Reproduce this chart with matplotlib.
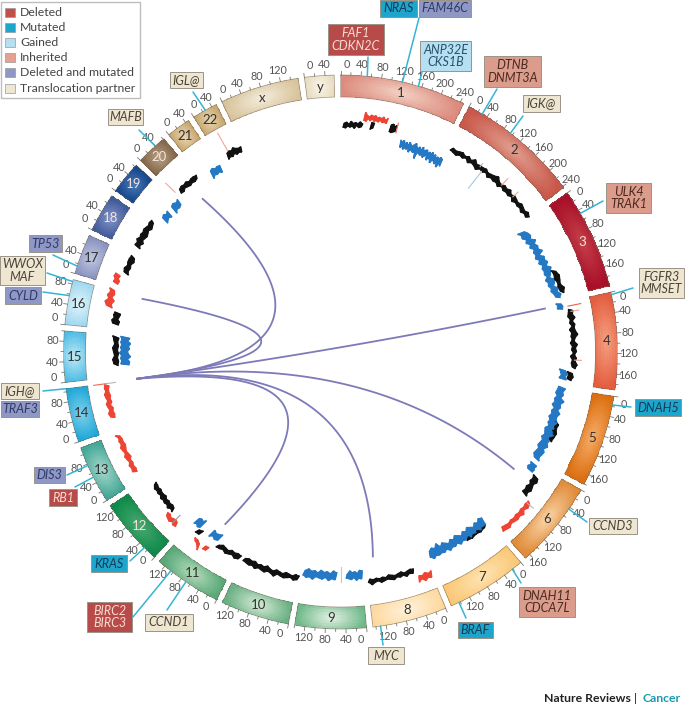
import numpy as np
import matplotlib
matplotlib.use("Agg")
import matplotlib.pyplot as plt
from matplotlib.colors import LinearSegmentedColormap
from matplotlib.patches import Rectangle

plt.rcParams["font.family"] = ["Lato", "DejaVu Sans"]

# chromosomes, clockwise from the top
chrom_names = ["1", "2", "3", "4", "5", "6", "7", "8", "9", "10", "11", "12",
               "13", "14", "15", "16", "17", "18", "19", "20", "21", "22", "x", "y"]
chrom_mb = [247, 243, 199, 191, 181, 171, 159, 146, 140, 135, 134, 132,
            114, 106, 100, 89, 79, 76, 64, 62, 47, 50, 155, 58]
edge_cols = ["#dc8b7e", "#c9584a", "#a80f28", "#e35d3f", "#dc6f10", "#e08c3a", "#fbc878", "#fdd9a0",
             "#6fb88a", "#6ab084", "#58a878", "#0d8a4a", "#44a898", "#20a8d8", "#50bde6", "#a0d8f0",
             "#8a94c0", "#3f5a9c", "#16468c", "#84684c", "#c8a870", "#c8a870", "#d8c49c", "#e8dcc0"]
mid_cols = ["#f2d2c4", "#e0a090", "#c4404a", "#f4a080", "#f5ad6a", "#fad6aa", "#fde4b4", "#fff2dc",
            "#e4f2e4", "#d8ecd8", "#b6dcbc", "#4caa70", "#a8d8cc", "#80d0ec", "#c0e8f4", "#e2f4fa",
            "#c0c8e0", "#8494c4", "#4878b4", "#b8a080", "#e8d4b0", "#e8d4b0", "#f4ecdc", "#f8f4e8"]
light_num = ["3", "12", "18", "19", "20"]

# legend
legend_names = ["Deleted", "Mutated", "Gained", "Inherited", "Deleted and mutated", "Translocation partner"]
legend_cols = ["#c0504a", "#1ea5cc", "#b6e0f2", "#e4a090", "#8f97c4", "#efe6d2"]

# copy number track, read as radius per segment
k_1a = [225, 229, 224, 230, 226, 228, 225, 231, 226, 229, 224, 230, 227, 229, 225, 231, 226, 229]
r_1a = [233, 241, 232, 238, 235, 237, 233, 239, 235, 238, 233, 239, 234, 237, 233, 238, 235, 237, 233, 239, 234, 236, 233, 238]
k_1b = [225, 232, 226, 231]
k_1c = [226, 233, 225, 234, 226, 232, 227, 233]
b_1 = [220, 213, 219, 215, 221, 212, 218, 214, 220, 213, 217, 215, 221, 211, 219, 214, 218, 213, 220, 212,
       222, 214, 219, 207, 218, 214, 220, 213, 217, 212, 221, 214, 218, 211, 219, 213, 220, 215, 217, 210,
       219, 213, 218, 212, 220, 209, 217, 213, 219, 212, 216, 210, 218, 212, 217, 208, 219, 213, 218, 211]
k_2 = [230, 233, 229, 232, 228, 233, 230, 234, 229, 232, 231, 234, 228, 232, 230, 235, 229, 232, 227, 233,
       230, 233, 229, 234, 231, 232, 228, 233, 230, 234, 229, 236, 230, 233, 228, 232, 231, 234, 229, 233,
       230, 235, 229, 232, 231, 234, 228, 233, 230, 232, 229, 234, 230, 233, 228, 232, 230, 234, 229, 232]
b_3 = [213, 220, 215, 222, 214, 223, 217, 221, 215, 225, 218, 222, 216, 224, 219, 223, 217, 226, 218, 221,
       216, 225, 219, 224, 217, 226, 220, 223, 218, 227, 219, 225, 218, 224, 220, 222, 217, 226, 219, 225,
       218, 223, 220, 227, 219, 225, 221, 228, 222, 226]
k_3 = [226, 230, 227, 232, 226, 231, 228, 230, 227, 233, 228, 231]
b_4a = [221, 226, 222, 227, 221, 226]
k_4a = [232, 236, 231, 235, 230, 237, 232, 234, 231, 236, 233, 235, 230, 236, 232, 238, 231, 235,
        232, 234, 230, 237, 232, 235, 231, 236, 233, 234, 230, 236, 232, 235, 231, 237, 232, 235]
b_4b = [220, 226, 221, 228, 222, 226, 220, 227]
k_4b = [228, 233, 229, 234, 228, 232]
b_5 = [221, 228, 220, 226, 219, 227, 221, 225, 219, 229, 220, 226, 218, 227, 221, 225, 219, 228, 220, 226,
       218, 226, 220, 228, 219, 225, 221, 227, 218, 226, 219, 229, 220, 225, 218, 227, 220, 226, 219, 228,
       218, 225, 220, 227, 219, 226, 218, 225, 220, 226]
k_5 = [226, 230, 227, 229, 226, 231, 227, 230, 226, 229]
b_6 = [220, 227, 221, 226, 219, 227, 220, 226]
k_6 = [229, 235, 230, 236, 229, 234, 231, 235, 229, 236, 230, 234, 229, 235]
r_6 = [240, 243, 239, 244, 240, 242, 239, 245, 240, 243, 239, 244, 240, 243, 239, 242, 240, 244, 239, 243, 238, 242]
b_7 = [218, 226, 216, 225, 219, 227, 217, 224, 220, 226, 218, 225, 216, 227, 219, 224, 217, 226, 220, 225,
       218, 227, 216, 224, 219, 226, 217, 225, 220, 227, 218, 224, 216, 226, 219, 225, 214, 226, 218, 225,
       216, 227, 218, 224]
k_7 = [225, 227, 226, 228, 225, 227, 226, 228, 225, 227]
r_8 = [237, 243, 238, 242, 236, 244, 238, 241, 237, 243]
k_8 = [229, 233, 228, 232, 229, 234, 230, 232, 228, 233, 229, 232, 230, 234, 229, 233, 228, 232, 230, 233,
       229, 234, 230, 232, 229, 233, 230, 235, 229, 232]
b_9a = [220, 228, 219, 227, 222, 229, 220, 226, 221, 228, 219, 227, 222, 226]
b_9b = [221, 228, 219, 227, 222, 229, 220, 226, 221, 228, 219, 227, 222, 226, 220, 229, 221, 227, 219, 228, 221, 226]
k_10 = [228, 232, 227, 233, 229, 231, 228, 232, 227, 233, 229, 232, 228, 231, 227, 234, 229, 232,
        228, 231, 226, 233, 228, 232, 227, 231, 228, 233, 226, 231, 227, 232, 226, 231, 227, 230]
k_11 = [227, 231, 226, 232, 227, 230, 226, 231, 228, 232, 227, 230, 226, 231, 228, 231]
b_11 = [218, 225, 219, 226, 220, 224, 218, 226]
r_11a = [236, 240, 236, 240]
r_11b = [244, 238, 240, 236, 238, 236]
k_11b = [226, 231, 227, 231]
b_12 = [216, 225, 218, 226, 217, 224, 218, 225]
r_12 = [240, 236, 241, 235, 239, 236, 241, 237, 240, 235, 239, 236]
k_12 = [232, 228, 231, 227, 233, 228, 231, 227, 232, 228, 231, 226, 232, 227, 230, 227, 231, 226, 230, 227, 231, 226, 229, 226]
r_13 = [236, 240, 235, 239, 236, 240, 235, 238, 236, 239, 234, 240, 235, 238, 236, 239, 235, 240, 234, 238,
        235, 239, 235, 238, 236, 240]
r_14 = [235, 239, 234, 240, 235, 238, 234, 239, 236, 240, 234, 238, 235, 239, 234, 240, 235, 238, 235, 239, 234, 238]
b_15 = [212, 220, 211, 219, 213, 220, 210, 219, 212, 221, 213, 219, 211, 220, 212, 219, 210, 220, 213, 219, 211, 220]
k_15 = [223, 227, 222, 228, 223, 226, 222, 227, 223, 228, 222, 226, 223, 227, 222, 228]
k_16 = [224, 230, 223, 231, 225, 229, 224, 230, 223, 229]
r_16a = [233, 239, 234, 241, 232, 238, 235, 240, 233, 238, 234, 239]
r_16b = [233, 238, 232, 237, 234, 239, 233, 238]
k_17 = [226, 231, 227, 232, 226, 230, 227, 231, 225, 231, 226, 230]
k_18 = [226, 232, 227, 231, 225, 233, 227, 231, 226, 232, 225, 231, 226, 232, 227, 231, 225, 230, 226, 231, 227, 230]
b_19a = [216, 223, 217, 224, 218, 222, 216, 223]
b_19b = [215, 223, 217, 224, 216, 222, 217, 223]
k_20 = [225, 229, 224, 230, 226, 229, 225, 230, 224, 228, 225, 229, 224, 229, 225, 228]
b_21 = [215, 223, 217, 224, 216, 222, 217, 223, 215, 222]
k_22 = [223, 229, 224, 230, 223, 229, 225, 231, 223, 229, 224, 228, 223, 228]

# single outliers sticking out of the track
spike_deg = [330.7, 314.0, 38.0, 44.0, 48.0, 37.0, 78.6, 262.3, 262.3, 14.2, 80.0, 92.0, 129.0, 224.5, 180.0]
spike_lo = [231, 230, 208, 232, 232, 232, 232, 227, 237, 226, 234, 234, 240, 229, 215]
spike_hi = [251, 243, 229, 241, 239, 236, 245, 237, 249, 236, 242, 241, 248, 240, 230]
spike_col = ["#eea79c", "#eea79c", "#a8c8e4", "#eea79c", "#eea79c", "#b8b8b8", "#e8604c", "#b8b8b8",
             "#ee6a58", "#ee6a58", "#eea79c", "#eea79c", "#b8b8b8", "#999999", "#a8d0ec"]

# translocation links, all leaving the IGH region on 14
link_from = 262.5
link_from_r = 205
link_to = [78, 124, 171, 213.8, 285, 318]
link_to_r = [209, 209, 207, 207, 205, 206]
link_bend_x = [5, 25, 30, 45, 42, 35]
link_bend_y = [2, 7, 3, -6, 7, 0]

# gene callouts: label, box kind, chromosome, Mb
gene_labels = ["FAF1\nCDKN2C", "NRAS", "FAM46C", "ANP32E\nCKS1B", "DTNB\nDNMT3A", "IGK@", "ULK4\nTRAK1",
               "FGFR3\nMMSET", "DNAH5", "CCND3", "DNAH11\nCDCA7L", "BRAF", "MYC", "CCND1", "BIRC2\nBIRC3",
               "KRAS", "RB1", "DIS3", "IGH@", "TRAF3", "CYLD", "WWOX\nMAF", "TP53", "MAFB", "IGL@"]
gene_kind = ["del", "mut", "both", "gain", "inh", "trans", "inh", "trans", "mut", "trans", "inh", "mut",
             "trans", "trans", "del", "mut", "del", "both", "trans", "both", "both", "trans", "both", "trans", "trans"]
gene_chrom = ["1", "1", None, "1", "2", "2", "3", "4", "5", "6", "7", "7", "8", "11", "11", "12", "13", "13",
              "14", None, "16", "16", "17", "20", "22"]
gene_mb = [52, 121, None, 153, 29, 95, 47, 5, 17, 44, 21, 143, 131, 69, 105, 27, 52, 77, 106, None, 57, 85, 15, 40, 26]

# layout, pixels of the 685x706 picture
gene_box = [(328, 24, 384, 55), (380, 0, 417, 17), (419, 0, 471, 17), (420, 41, 471, 71), (484, 56, 541, 87),
            (523, 95, 560, 112), (606, 183, 651, 213), (639, 268, 684, 298), (635, 399, 681, 416),
            (589, 518, 637, 534), (519, 587, 575, 617), (458, 622, 493, 638), (368, 647, 404, 664),
            (145, 614, 193, 631), (87, 602, 132, 632), (91, 555, 127, 572), (49, 489, 77, 506), (34, 467, 65, 483),
            (1, 383, 39, 399), (1, 401, 39, 417), (5, 287, 41, 304), (0, 256, 45, 285), (29, 235, 62, 252),
            (108, 109, 143, 125), (170, 72, 203, 88)]
gene_line_start = [(368, 57), (419, 18), None, (422, 72), (497, 89), (523, 116), (603, 201), (633, 288), (631, 407),
                   (587, 522), (521, 583), (466, 618), (383, 645), (167, 610), (133, 617), (130, 561), (75, 487),
                   (67, 475), (43, 391), None, (43, 292), (47, 273), (53, 255), (139, 130), (193, 92)]
box_style = {"del": ("#b94a4a", "#f8dcd0"), "mut": ("#1ea5cc", "#153c58"), "both": ("#8f97c4", "#2f3a68"),
             "gain": ("#b6e0f2", "#27506a"), "inh": ("#dc9c8c", "#4a2a20"), "trans": ("#efe6d2", "#4a4438")}

W, H = 685, 706
CX, CY, RMAX = 340.5, 352, 339
R_IN, R_OUT = 255, 277
GAP = 1.3
DEG_PER_MB = (360 - GAP * len(chrom_mb)) / sum(chrom_mb)

BLACK, BLUE, RED = "#111111", "#2478c4", "#ee4433"

# track table: values, first degree, last degree, colour
segments = [
    (b_1, 16.0, 28.0, BLUE), (k_1a, 0.7, 5.5, BLACK), (r_1a, 5.8, 11.5, RED), (k_1b, 7.6, 8.4, BLACK),
    (k_1c, 12.5, 14.0, BLACK), (k_2, 28.6, 54.3, BLACK), (b_3, 56.5, 76.0, BLUE), (k_3, 69.0, 75.0, BLACK),
    (b_4a, 77.5, 79.0, BLUE), (k_4a, 79.5, 94.0, BLACK), (k_4b, 95.0, 97.0, BLACK), (b_4b, 94.5, 97.0, BLUE),
    (k_5, 108.0, 113.0, BLACK), (b_5, 99.0, 118.7, BLUE), (b_6, 120.0, 122.0, BLUE), (k_6, 122.5, 127.7, BLACK),
    (r_6, 128.5, 137.7, RED), (k_7, 140.0, 146.0, BLACK), (b_7, 139.7, 156.3, BLUE), (r_8, 157.6, 161.0, RED),
    (k_8, 161.5, 173.0, BLACK), (b_9a, 174.4, 178.5, BLUE), (b_9b, 181.0, 189.5, BLUE), (k_10, 190.5, 205.0, BLACK),
    (k_11, 206.0, 212.5, BLACK), (b_11, 212.8, 215.5, BLUE), (r_11a, 214.0, 215.0, RED), (r_11b, 216.0, 218.0, RED),
    (k_11b, 217.5, 218.8, BLACK), (b_12, 218.5, 220.5, BLUE), (r_12, 223.5, 227.0, RED), (k_12, 226.6, 234.7, BLACK),
    (r_13, 239.7, 249.5, RED), (r_14, 253.9, 262.0, RED), (b_15, 266.6, 274.0, BLUE), (k_15, 266.6, 274.0, BLACK),
    (k_16, 277.0, 280.0, BLACK), (r_16a, 281.0, 285.5, RED), (r_16b, 287.0, 289.3, RED), (k_17, 290.0, 294.7, BLACK),
    (k_18, 297.3, 304.8, BLACK), (b_19a, 306.8, 309.0, BLUE), (b_19b, 310.4, 313.0, BLUE), (k_20, 315.0, 320.7, BLACK),
    (b_21, 324.0, 327.0, BLUE), (k_22, 330.0, 334.0, BLACK),
]

fig = plt.figure(figsize=(W / 100, H / 100), dpi=100)
ax = fig.add_axes([(CX - RMAX) / W, (H - CY - RMAX) / H, 2 * RMAX / W, 2 * RMAX / H], projection="polar")
ax.set_theta_zero_location("N")
ax.set_theta_direction(-1)
ax.axis("off")

# overlay in picture pixels, for the legend and the boxes
top = fig.add_axes([0, 0, 1, 1])
top.set_xlim(0, W)
top.set_ylim(H, 0)
top.axis("off")
top.patch.set_alpha(0)

chrom_start = {}
angle = 0.0
for name, mb, c_edge, c_mid in zip(chrom_names, chrom_mb, edge_cols, mid_cols):
    chrom_start[name] = angle
    end = angle + mb * DEG_PER_MB
    th = np.radians(np.linspace(angle, end, 41))
    rr = np.linspace(R_IN, R_OUT, 9)
    tc = 0.5 * (th[:-1] + th[1:])
    rc = 0.5 * (rr[:-1] + rr[1:])
    u = np.abs(2 * (tc - th[0]) / (th[-1] - th[0]) - 1)
    v = np.abs(2 * (rc - R_IN) / (R_OUT - R_IN) - 1)
    shade = 1 - np.sqrt(np.outer(v * 0.6, np.ones_like(u)) ** 2 + np.outer(np.ones_like(v), u) ** 2)
    cmap = LinearSegmentedColormap.from_list("c" + name, [c_edge, c_mid])
    ax.pcolormesh(th, rr, np.clip(shade, 0, 1), cmap=cmap, vmin=0, vmax=1, shading="flat", linewidth=0, rasterized=True)
    outline_t = np.concatenate([th, th[::-1], th[:1]])
    outline_r = np.concatenate([np.full(41, R_OUT), np.full(41, R_IN), [R_OUT]])
    ax.plot(outline_t, outline_r, color="#7a6a5a", lw=0.5, alpha=0.7)

    for tick in range(0, mb + 1, 20):
        t = np.radians(angle + tick * DEG_PER_MB)
        ax.plot([t, t], [R_OUT, R_OUT + (4 if tick % 40 == 0 else 2.5)], color="#777777", lw=0.6)
        if tick % 40 == 0:
            # the 0 is nudged clockwise, clear of the last label of the previous chromosome
            nudge = np.radians(1.3) if tick == 0 else 0
            ax.text(t + nudge, 288, str(tick), ha="center", va="center", fontsize=7.8, color="#555555")
    num_col = "#f4e4dc" if name in light_num else "#333333"
    ax.text(np.radians(0.5 * (angle + end)), 266, name, ha="center", va="center", fontsize=9.5, color=num_col)
    angle = end + GAP

for values, first, last, col in segments:
    th = np.radians(np.linspace(first, last, len(values)))
    # odd and even readings are the two edges of the noisy band
    ax.fill(np.concatenate([th[::2], th[1::2][::-1]]), np.concatenate([values[::2], values[1::2][::-1]]),
            color=col, lw=0.8)
    ax.plot(th, values, color=col, lw=1.2, solid_joinstyle="miter")

for deg, lo, hi, col in zip(spike_deg, spike_lo, spike_hi, spike_col):
    ax.plot(np.radians([deg, deg]), [lo, hi], color=col, lw=0.8)

# quadratic curves through a point near the centre
t0 = np.radians(link_from)
p0 = np.array([link_from_r * np.sin(t0), link_from_r * np.cos(t0)])
s = np.linspace(0, 1, 120)[:, None]
for deg, r_end, bx, by in zip(link_to, link_to_r, link_bend_x, link_bend_y):
    t1 = np.radians(deg)
    p2 = np.array([r_end * np.sin(t1), r_end * np.cos(t1)])
    ctl = np.array([bx, by])
    pts = (1 - s) ** 2 * p0 + 2 * s * (1 - s) * ctl + s ** 2 * p2
    ax.plot(np.arctan2(pts[:, 0], pts[:, 1]), np.hypot(pts[:, 0], pts[:, 1]), color="#7d7ab8", lw=1.3)

ax.set_rlim(0, RMAX)
ax.grid(False)

for i in range(len(gene_labels)):
    x0, y0, x1, y1 = gene_box[i]
    bg, fg = box_style[gene_kind[i]]
    if gene_line_start[i] is not None:
        t = np.radians(chrom_start[gene_chrom[i]] + gene_mb[i] * DEG_PER_MB)
        top.annotate("", xy=(t, R_OUT), xycoords=ax.transData, xytext=gene_line_start[i], textcoords="data",
                     arrowprops=dict(arrowstyle="-", color="#35b4d4", lw=1.1, shrinkA=0, shrinkB=0))
    top.add_patch(Rectangle((x0, y0), x1 - x0, y1 - y0, facecolor=bg, edgecolor="#9a9488", lw=0.7))
    top.text(0.5 * (x0 + x1), 0.5 * (y0 + y1), gene_labels[i], ha="center", va="center", style="italic",
             fontsize=9, color=fg, linespacing=1.05)

top.add_patch(Rectangle((1, 2), 139, 96, facecolor="white", edgecolor="#bdbdbd", lw=1))
for i, (name, col) in enumerate(zip(legend_names, legend_cols)):
    y = 12.5 + i * 15.1
    top.add_patch(Rectangle((5, y - 4.5), 10, 9, facecolor=col, edgecolor="#999999", lw=0.5))
    top.text(20, y, name, ha="left", va="center", fontsize=8.8, color="#444444")

top.text(631, 699, "Nature Reviews", ha="right", va="center", fontsize=8.8, fontweight="bold", color="#222222")
top.text(635, 699, "|", ha="center", va="center", fontsize=8.8, color="#222222")
top.text(681, 699, "Cancer", ha="right", va="center", fontsize=8.8, fontweight="bold", color="#1a9ab0")

fig.savefig("out.png", dpi=100)
